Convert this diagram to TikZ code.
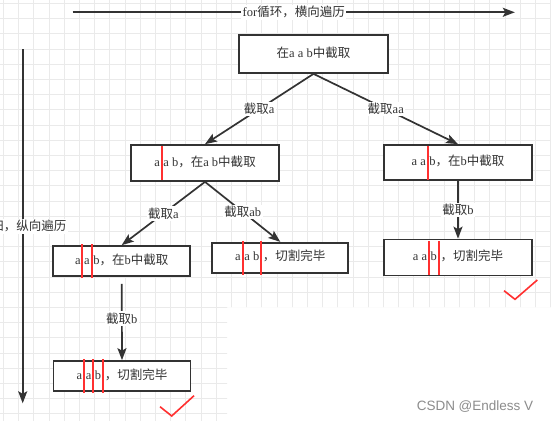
\documentclass[tikz,border=0pt]{standalone}
\usepackage{fontspec}
\setmainfont{Liberation Serif}
\newfontfamily\zh{Noto Sans CJK SC}
\newfontfamily\wmfont{Liberation Sans}
\usetikzlibrary{arrows.meta}
\definecolor{ink}{HTML}{333333}
\definecolor{txt}{HTML}{333333}
\definecolor{cut}{HTML}{FF3030}
\definecolor{gridc}{HTML}{EAEAEA}
\definecolor{wm}{HTML}{8C8C8C}
\newcommand{\cutbar}{\hspace{1.8pt}\smash{\makebox[0pt]{\textcolor{cut}{\rule[-14pt]{2pt}{34pt}}}}\hspace{1.8pt}}
\tikzset{
  gridline/.style={draw=gridc, line width=0.8pt},
  stepbox/.style={draw=ink, line width=1.7pt, fill=white, text=txt,
    font=\fontsize{12.5}{14}\selectfont, inner sep=0pt, text height=9pt, text depth=3pt},
  conn/.style={draw=ink, line width=1.7pt, -{Stealth[length=12pt,width=9pt,inset=2.5pt]}},
  lbl/.style={fill=white, text=txt, font=\fontsize{12.5}{14}\selectfont, inner sep=1.5pt},
  check/.style={draw=cut, line width=1.6pt},
}
\begin{document}
\begin{tikzpicture}[x=1pt,y=-1pt]
\fill[white] (0,0) rectangle (551,421);
\useasboundingbox (0,0) rectangle (551,421);
\begin{scope}
\clip (0,0) -- (551,0) -- (551,307) -- (227,307) -- (227,421) -- (0,421) -- cycle;
\foreach \i in {0,...,36} {
  \draw[gridline] (3.3+15.2*\i,0) -- (3.3+15.2*\i,421);
  \draw[gridline] (0,3.3+15.2*\i) -- (551,3.3+15.2*\i);
}
\end{scope}

% traversal arrows
\coordinate (h0) at (72.7,12.3);
\coordinate (h1) at (514.8,12.3);
\coordinate (v0) at (22.7,49);
\coordinate (v1) at (22.7,403.3);
\draw[conn] (h0) -- node[lbl] {for{\zh 循环，横向遍历}} (h1);
\draw[conn] (v0) -- node[lbl] {\zh 递归，纵向遍历} (v1);

% boxes
\node[stepbox, minimum width=149pt, minimum height=38pt] (B0) at (313.5,54) {{\zh 在}a a b{\zh 中截取}};
\node[stepbox, minimum width=148pt, minimum height=36pt] (B1) at (205,163) {a\cutbar a b{\zh ，在}a b{\zh 中截取}};
\node[stepbox, minimum width=148pt, minimum height=35pt] (B2) at (458,162.5) {a a\cutbar b{\zh ，在}b{\zh 中截取}};
\node[stepbox, minimum width=137pt, minimum height=30pt] (B3) at (121.7,261) {a\cutbar a\cutbar b{\zh ，在}b{\zh 中截取}};
\node[stepbox, minimum width=136pt, minimum height=30pt] (B4) at (280.3,257.7) {a\cutbar a b\cutbar{\zh ，切割完毕}};
\node[stepbox, minimum width=148pt, minimum height=36pt] (B5) at (458,257.5) {a a\cutbar b\cutbar{\zh ，切割完毕}};
\node[stepbox, minimum width=137pt, minimum height=30pt] (B6) at (122,376) {a\cutbar a\cutbar b\cutbar{\zh ，切割完毕}};

% connectors
\draw[conn] (B0.south) -- node[lbl] {{\zh 截取}a} (B1.north);
\draw[conn] (B0.south) -- node[lbl] {{\zh 截取}aa} (B2.north);
\draw[conn] (B1.south) -- node[lbl] {{\zh 截取}a} (B3.north);
\draw[conn] (B1.south) -- node[lbl] {{\zh 截取}ab} (B4.north);
\draw[conn] (B2.south) -- node[lbl] {{\zh 截取}b} (B5.north);
\draw[conn, shorten <=7pt] (B3.south) -- node[lbl] {{\zh 截取}b} (B6.north);

% check marks
\draw[check] (504,290.7) -- (515,299.3) -- (537.3,280);
\draw[check] (160,406.7) -- (171.7,416) -- (194,395.7);

% watermark
\node[text=wm, font=\wmfont\fontsize{13.5}{15}\selectfont, inner sep=0pt] (wm) at (475,406.5) {CSDN @Endless V};
\end{tikzpicture}
\end{document}
